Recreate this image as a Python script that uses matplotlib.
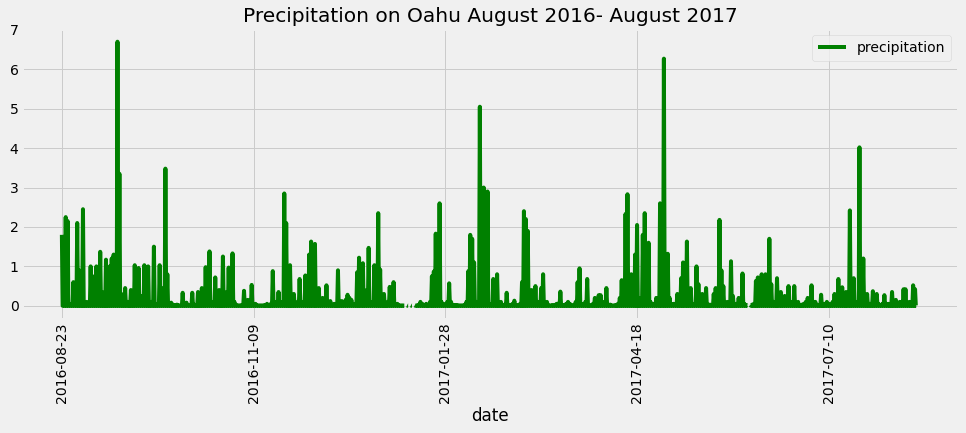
import numpy as np
import matplotlib
matplotlib.use("Agg")
import matplotlib.pyplot as plt

nan = np.nan
row_step = 5
dry_reading = 0.0
tick_rows = [0, 500, 1000, 1500, 2000]
tick_dates = ["2016-08-23", "2016-11-09", "2017-01-28", "2017-04-18", "2017-07-10"]

# wettest reading for each group of 5 rows of the table,
# the other rows of a group are dry
precipitation = [
    1.8, 0.05, 2.25, 2.15, 0.05, 0.02, 0.6, 0.05, 2.1, 0.9,
    0.05, 2.45, 0.03, 0.1, 0.02, 1.0, 0.75, 0.02, 1.0, 0.05,
    1.37, 0.35, 0.03, 1.17, 0.05, 1.0, 1.2, 1.3, 0.3, 6.7,
    3.35, 0.3, 0.02, 0.45, 0.1, 0.02, 0.4, 0.02, 1.03, 0.05,
    0.96, 0.05, 0.25, 1.03, 0.05, 1.0, 0.03, 0.1, 1.5, 0.03,
    0.05, 1.03, 0.45, 0.03, 3.48, 0.8, 0.05, 0.08, 0.03, 0.02,
    0.03, 0.01, 0.01, 0.33, 0.02, 0.08, 0.01, 0.01, 0.33, 0.03,
    0.02, 0.35, 0.03, 0.45, 0.02, 0.98, 0.05, 1.38, 0.05, 0.1,
    0.72, 0.03, 0.4, 0.02, 1.25, 0.05, 0.35, 0.97, 0.03, 1.33,
    0.1, 0.02, 0.01, 0.01, 0.02, 0.38, 0.05, 0.15, 0.02, 0.53,
    0.05, 0.05, 0.01, 0.01, 0.01, 0.01, 0.02, 0.05, 0.02, 0.05,
    0.88, 0.03, 0.1, 0.35, 0.05, 0.1, 2.85, 2.1, 0.75, 1.03,
    0.05, 0.3, 0.05, 0.1, 0.68, 0.05, 0.1, 0.77, 0.1, 1.3,
    1.63, 0.1, 1.57, 0.1, 0.45, 0.05, 0.2, 0.05, 0.52, 0.05,
    0.12, 0.02, 0.05, 0.02, 0.9, 0.05, 0.12, 0.03, 0.15, 0.28,
    0.2, 0.15, 0.03, 0.05, 0.85, 1.22, 0.1, 1.08, 0.1, 0.4,
    1.47, 0.1, 0.1, 1.03, 0.2, 2.35, 0.92, 0.05, 0.3, 0.02,
    0.1, 0.48, 0.03, 0.6, 0.05, 0.05, 0.01, 0.01, 0.01, nan,
    0.01, nan, 0.01, nan, 0.01, 0.01, 0.02, 0.1, 0.05, 0.02,
    0.05, 0.02, 0.1, 0.75, 0.87, 1.83, 0.1, 2.6, 0.1, 0.02,
    0.05, 0.1, 0.57, 0.1, 0.02, 0.02, 0.02, 0.01, 0.01, 0.01,
    0.02, 0.1, 0.88, 1.8, 1.7, 1.1, 0.1, 0.05, 5.05, 0.1,
    3.0, 0.2, 2.9, 0.05, 0.02, 0.68, 0.05, 0.8, 0.05, 0.1,
    0.02, 0.03, 0.33, 0.02, 0.01, 0.05, 0.13, 0.01, 0.02, 0.05,
    0.6, 2.4, 2.2, 1.9, 0.1, 0.4, 0.1, 0.5, 0.05, 0.1,
    0.45, 0.8, 0.05, 0.1, 0.01, 0.01, 0.02, 0.01, 0.05, 0.06,
    0.36, 0.02, 0.02, 0.05, 0.1, 0.05, 0.01, 0.02, 0.1, 0.6,
    0.95, 0.05, 0.02, 0.1, 0.68, 0.02, 0.01, 0.05, 0.2, 0.02,
    0.27, 0.27, 0.05, 0.1, 0.45, 0.03, 0.03, 0.01, 0.01, 0.02,
    0.05, 0.2, 0.65, 0.05, 2.33, 2.83, 0.1, 0.8, 0.1, 1.3,
    2.05, 0.2, 0.1, 1.8, 2.35, 0.1, 1.6, 0.1, 0.05, 0.05,
    0.2, 0.1, 2.6, 0.1, 6.27, 0.3, 1.32, 0.2, 0.03, 0.05,
    0.05, 0.3, 0.02, 0.7, 1.1, 0.1, 1.63, 0.4, 0.45, 0.02,
    0.05, 1.0, 0.55, 0.02, 0.3, 0.02, 0.45, 0.03, 0.03, 0.01,
    0.3, 0.45, 0.1, 2.18, 0.9, 0.5, 0.05, 0.1, 0.03, 1.13,
    0.25, 0.02, 0.05, 0.2, 0.05, 0.82, 0.05, 0.02, nan, 0.02,
    0.03, 0.05, 0.63, 0.72, 0.1, 0.8, 0.1, 0.8, 0.1, 1.7,
    0.55, 0.1, 0.05, 0.7, 0.1, 0.35, 0.05, 0.25, 0.1, 0.5,
    0.05, 0.1, 0.5, 0.05, 0.1, 0.02, 0.03, 0.05, 0.1, 0.2,
    0.05, 0.52, 0.1, 0.1, 0.01, 0.02, 0.28, 0.02, 0.05, 0.1,
    0.05, 0.02, 0.1, 0.3, 0.05, 0.68, 0.1, 0.47, 0.05, 0.35,
    0.1, 2.42, 0.1, 0.7, 0.1, 0.05, 4.02, 0.2, 1.2, 0.2,
    0.3, 0.05, 0.05, 0.37, 0.05, 0.3, 0.05, 0.02, 0.05, 0.27,
    0.05, 0.05, 0.02, 0.35, 0.05, 0.15, 0.05, 0.1, 0.1, 0.42,
    0.42, 0.05, 0.1, 0.02, 0.52, 0.42,
]

plt.style.use("fivethirtyeight")

# every group: its wettest row, then two dry rows before the next group
wet = np.array(precipitation)
dry = np.where(np.isnan(wet), nan, dry_reading)
group_rows = np.arange(len(wet)) * row_step
rows = np.column_stack((group_rows, group_rows + 2, group_rows + 3)).ravel()
values = np.column_stack((wet, dry, dry)).ravel()

fig = plt.figure(figsize=(966 / 72, 433 / 72), dpi=72)
ax = fig.add_axes([22 / 966, 1 - 319 / 433, 936 / 966, 290.5 / 433])
ax.plot(rows, values, color="green", label="precipitation")
ax.set_xlim(-104, 2337)
ax.set_xticks(tick_rows)
ax.set_xticklabels(tick_dates, rotation=90)
ax.set_xlabel("date")
ax.set_title("Precipitation on Oahu August 2016- August 2017")
ax.legend(loc="upper right")
fig.savefig("out.png", dpi=72)
